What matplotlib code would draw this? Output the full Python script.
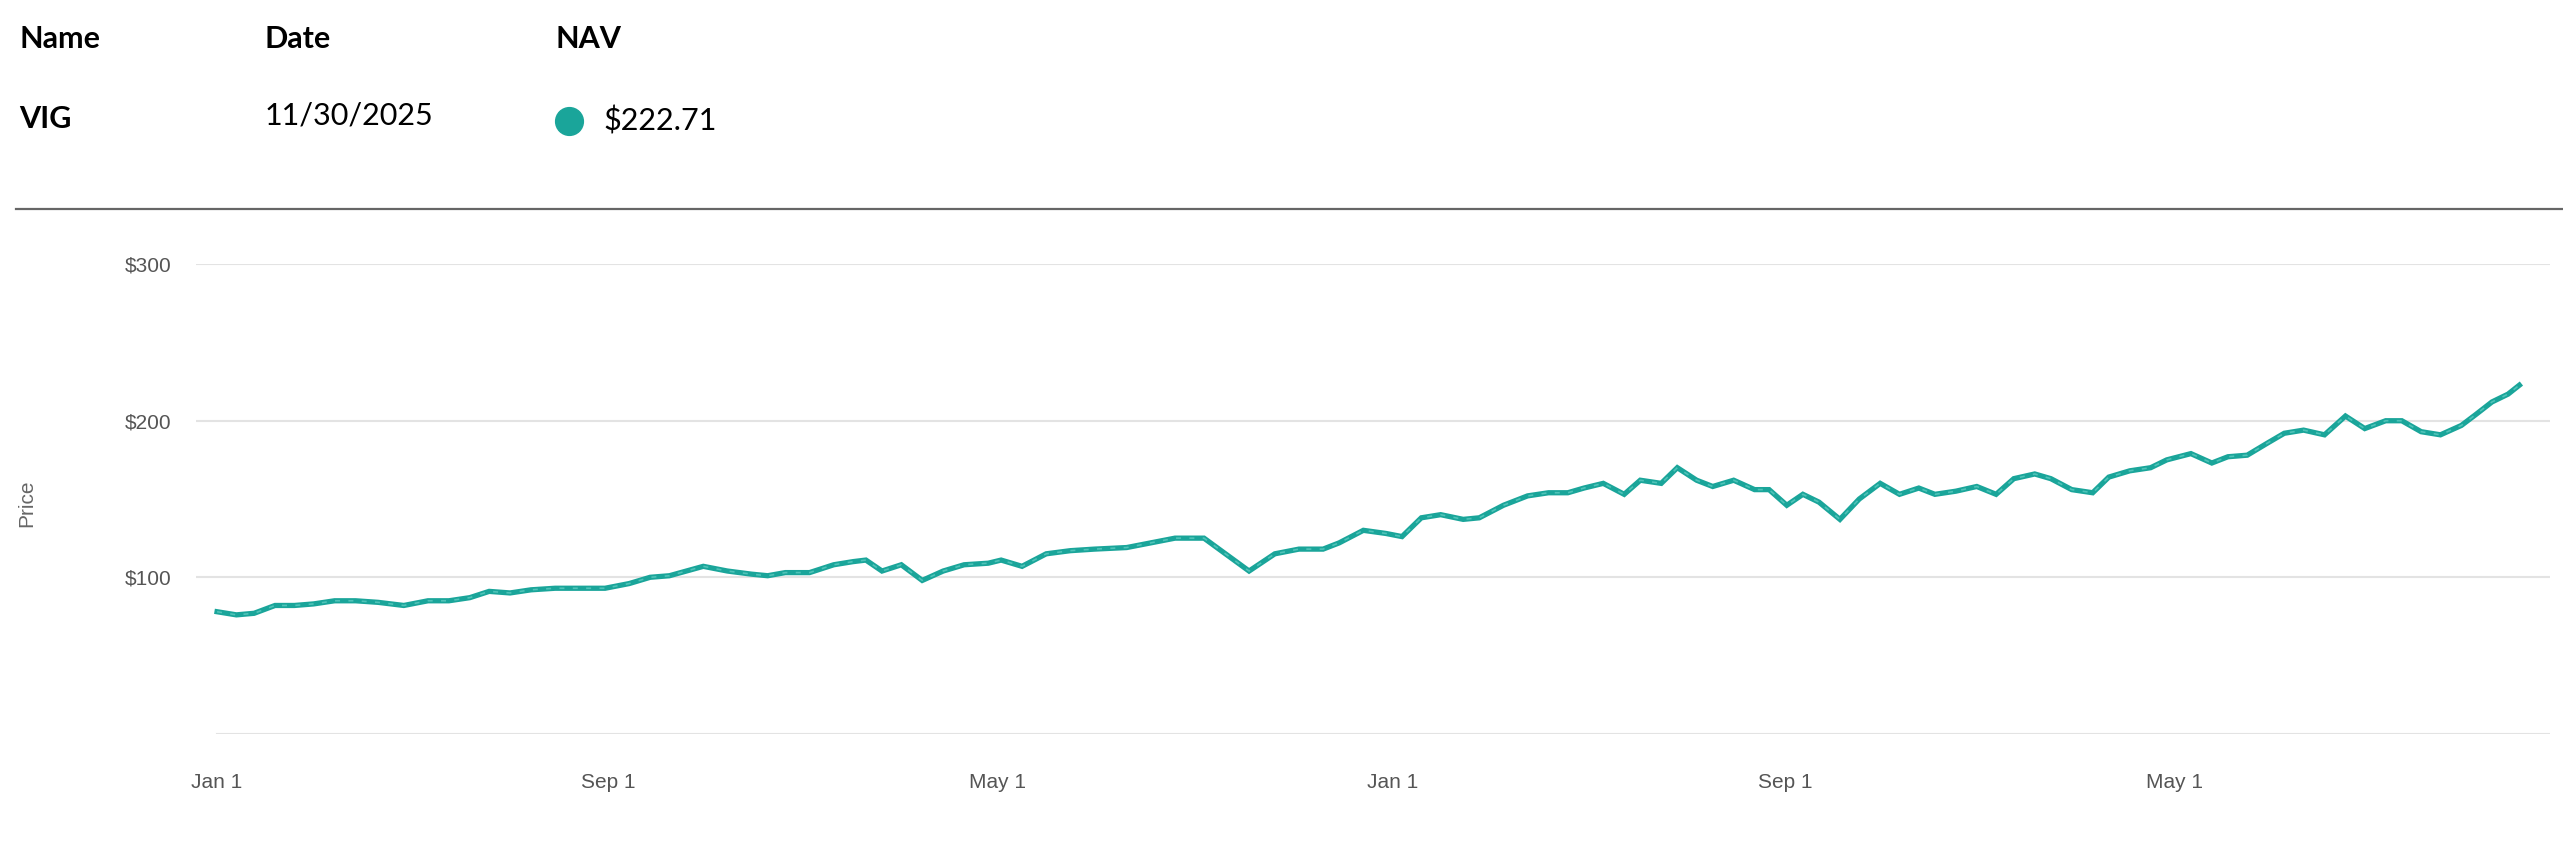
import datetime as dt

import matplotlib
matplotlib.use("Agg")
import matplotlib.pyplot as plt
import matplotlib.dates as mdates
from matplotlib.lines import Line2D

START = dt.date(2022, 1, 1)

# days after START
day_offsets = [0, 12, 23, 36, 48, 60, 73, 86, 100, 116, 131, 144, 157, 169, 182, 195,
               210, 225, 241, 256, 269, 281, 302, 317, 332, 342, 353, 368, 383, 395,
               403, 413, 425, 438, 451, 464, 479, 487, 500, 515, 530, 545, 565, 580,
               595, 613, 641, 657, 672, 687, 697, 712, 726, 736, 748, 760, 774, 784,
               799, 814, 827, 839, 849, 861, 874, 884, 897, 907, 919, 929, 942, 955,
               964, 975, 985, 995, 1008, 1020, 1033, 1045, 1057, 1067, 1080, 1093,
               1105, 1116, 1129, 1139, 1152, 1165, 1175, 1188, 1201, 1211, 1226, 1239,
               1249, 1261, 1274, 1284, 1296, 1309, 1322, 1334, 1347, 1357, 1369,
               1381, 1394, 1403, 1413, 1423, 1430]
nav = [78, 76, 77, 82, 82, 83, 85, 85, 84, 82, 85, 85, 87, 91, 90, 92, 93, 93, 93, 96,
       100, 101, 107, 104, 102, 101, 103, 103, 108, 110, 111, 104, 108, 98, 104, 108,
       109, 111, 107, 115, 117, 118, 119, 122, 125, 125, 104, 115, 118, 118, 122, 130,
       128, 126, 138, 140, 137, 138, 146, 152, 154, 154, 157, 160, 153, 162, 160, 170,
       162, 158, 162, 156, 156, 146, 153, 148, 137, 150, 160, 153, 157, 153, 155, 158,
       153, 163, 166, 163, 156, 154, 164, 168, 170, 175, 179, 173, 177, 178, 186, 192,
       194, 191, 203, 195, 200, 200, 193, 191, 197, 204, 212, 217, 222.71]
y_ticks = [100, 200, 300]
x_ticks = [dt.date(2022, 1, 1), dt.date(2022, 9, 1), dt.date(2023, 5, 1),
           dt.date(2024, 1, 1), dt.date(2024, 9, 1), dt.date(2025, 5, 1)]

dates = [START + dt.timedelta(days=d) for d in day_offsets]
TEAL = "#1aa59a"
W, H = 1568, 520  # layout measured on a scaled view of the reference

fig = plt.figure(figsize=(25.63, 8.48), dpi=100)

# ── header ───────────────────────────────────────────────────────────────
hfont = "Lato"
fig.text(12 / W, 1 - 24 / H, "Name", fontsize=22, fontweight="bold", family=hfont, va="center")
fig.text(162 / W, 1 - 24 / H, "Date", fontsize=22, fontweight="bold", family=hfont, va="center")
fig.text(340 / W, 1 - 24 / H, "NAV", fontsize=22, fontweight="bold", family=hfont, va="center")
fig.text(12 / W, 1 - 73 / H, "VIG", fontsize=22, fontweight="bold", family=hfont, va="center")
fig.text(162 / W, 1 - 71 / H, "11/30/2025", fontsize=22, family=hfont, va="center")
fig.text(369 / W, 1 - 74 / H, "$222.71", fontsize=22, family=hfont, va="center")
fig.add_artist(Line2D([348 / W], [1 - 74 / H], marker="o", markersize=20,
                      color=TEAL, transform=fig.transFigure))
fig.add_artist(Line2D([10 / W, 1], [1 - 128 / H] * 2, color="#666666", lw=1.6,
                      transform=fig.transFigure))

# ── chart ────────────────────────────────────────────────────────────────
ax = fig.add_axes([120 / W, 1 - 450 / H, 1440 / W, 288 / H])
ax.plot(dates, nav, color=TEAL, lw=3.8, solid_joinstyle="miter")
ax.plot(dates, nav, color="#4fc3b8", lw=1.2, dashes=(3, 5))
ax.set_ylim(0, 300)
ax.set_xlim(START - dt.timedelta(days=13), START + dt.timedelta(days=1449))
ax.set_yticks(y_ticks)
ax.set_yticklabels([f"${v}" for v in y_ticks])
ax.set_xticks(x_ticks)
ax.xaxis.set_major_formatter(mdates.DateFormatter("%b 1"))
ax.grid(axis="y", color="#e3e3e3", lw=1.5)
ax.axhline(0, xmin=13 / 1440, color="#e3e3e3", lw=1.5)
for s in ax.spines.values():
    s.set_visible(False)
ax.tick_params(length=0, labelsize=15, labelcolor="#555555", pad=18)
ax.tick_params(axis="x", pad=28)
for lbl in ax.get_xticklabels() + ax.get_yticklabels():
    lbl.set_family("Liberation Sans")
ax.set_ylabel("Price", fontsize=15, color="#666666", family="Liberation Sans", labelpad=42)
ax.yaxis.set_label_coords(-0.068, 0.49)

fig.savefig("out.png", dpi=100)
